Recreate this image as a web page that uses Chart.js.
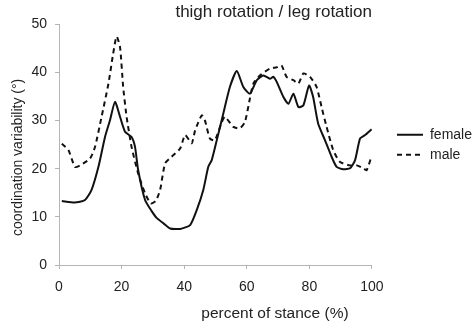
<!DOCTYPE html>
<html>
<head>
<meta charset="utf-8">
<script src="https://cdn.jsdelivr.net/npm/chart.js@4"></script>
<style>
  html, body { margin: 0; padding: 0; background: #fff; }
  #wrap { width: 474px; height: 323px; }
</style>
</head>
<body>
<div id="wrap"><canvas id="coordChart"></canvas></div>
<script>
const chartTitle = 'thigh rotation / leg rotation';
const xTitle = 'percent of stance (%)';
const yTitle = 'coordination variability (°)';
const seriesNames = ['female', 'male'];

const femaleX = [0.9, 5, 8.3, 10.4, 12.6, 14.7, 16.3, 17.9, 19.5, 21.1, 23.2, 24.3, 25.3, 27.5, 29.5, 31.2, 33.5, 35.5, 38.7, 41.9,
  44, 46.1, 47.7, 48.8, 50.4, 52.5, 54.6, 56.8, 58.9, 61, 63.2, 65.3, 67.4, 68.5, 69.6, 71.7, 73.3, 74.9, 76.5, 78.1,
  79.9, 81.2, 82.8, 85, 87.1, 88.7, 90.8, 93, 94.6, 96.2, 97.8, 99.9];
const femaleY = [13.3, 13, 13.5, 15.6, 20.4, 26.6, 30.1, 33.9, 30.8, 27.7, 26.6, 24.5, 19.7, 13.5, 11.3, 9.8, 8.6, 7.6, 7.5, 8.3,
  11.4, 15.6, 20.4, 21.8, 25.9, 31.5, 37, 40.3, 37, 35.6, 38.4, 39.4, 38.7, 39.1, 38, 34.9, 33.5, 35.6, 32.8, 33.2,
  37.3, 34.9, 29.4, 25.9, 22.5, 20.4, 19.9, 20.1, 21.8, 26.3, 27, 28.2];

const maleX = [0.9, 3, 5.1, 6.7, 9.9, 11.5, 13.6, 15.8, 17.3, 18.4, 19.5, 20.5, 21.6, 23.2, 25.3, 27.5, 29.3, 30.9, 32.3, 33.9,
  36, 38.7, 40.3, 42.4, 43.5, 45.6, 46.6, 48.2, 49.8, 52, 53, 55.7, 57.8, 59.4, 61, 62.1, 64.2, 67.4, 69.6, 71.1,
  72.7, 74.9, 76.5, 78.1, 80.2, 82.3, 83.9, 85.5, 87.6, 89.8, 93, 95.1, 97.2, 98.3, 99.8];
const maleY = [25.2, 23.9, 20.4, 20.7, 22.1, 24.5, 30.8, 37.7, 43.9, 47.5, 45.3, 37, 30.8, 24.5, 19, 14.9, 12.8, 13.3, 15.6, 21.1,
  22.5, 24.2, 27, 25.3, 28, 31.1, 30.1, 26.3, 25.9, 29.7, 30.8, 28.7, 28.4, 29.7, 34.6, 37.7, 39.4, 40.8, 41.1, 41.5,
  39.1, 38.4, 37.7, 39.8, 39.1, 37, 32.8, 28.7, 23.9, 21.4, 20.7, 20.7, 20.1, 19.7, 22.5];

const fontFamily = '"Liberation Sans", Arial, sans-serif';
const textColor = '#222';
const axisColor = '#b5b5b5';

// axis captions sit off-centre in the original, so draw them by hand
const axisCaptions = {
  id: 'axisCaptions',
  afterLayout(chart) {
    // leave a gap between plot and legend
    chart.legend.left += 19;
    chart.legend.right += 19;
  },
  afterDraw(chart) {
    const {ctx, chartArea} = chart;
    ctx.save();
    ctx.fillStyle = textColor;
    ctx.textAlign = 'center';
    ctx.textBaseline = 'middle';
    ctx.font = '15.5px ' + fontFamily;
    ctx.fillText(xTitle, chartArea.right - 97, 314);
    ctx.font = '14px ' + fontFamily;
    ctx.translate(18, chartArea.top + 133);
    ctx.rotate(-Math.PI / 2);
    ctx.fillText(yTitle, 0, 0);
    ctx.restore();
  }
};

new Chart(document.getElementById('coordChart'), {
  type: 'line',
  data: {
    datasets: [
      {
        label: seriesNames[0],
        data: femaleX.map((x, i) => ({x: x, y: femaleY[i]})),
        borderColor: '#111',
        borderWidth: 2,
        pointRadius: 0,
        tension: 0.2,
        fill: false
      },
      {
        label: seriesNames[1],
        data: maleX.map((x, i) => ({x: x, y: maleY[i]})),
        borderColor: '#111',
        borderWidth: 2,
        borderDash: [5, 4],
        pointRadius: 0,
        tension: 0.2,
        fill: false
      }
    ]
  },
  options: {
    responsive: true,
    maintainAspectRatio: false,
    animation: false,
    layout: {
      padding: {left: 0, right: 11, top: 0, bottom: 0}
    },
    scales: {
      x: {
        type: 'linear',
        min: 0,
        max: 100,
        ticks: {
          stepSize: 20,
          color: textColor,
          padding: 10,
          font: {size: 14, family: fontFamily}
        },
        grid: {drawOnChartArea: false, tickLength: 4, color: axisColor},
        border: {color: axisColor},
        afterFit(scale) { scale.height = 58; }
      },
      y: {
        min: 0,
        max: 50,
        ticks: {
          stepSize: 10,
          color: textColor,
          padding: 8,
          font: {size: 14, family: fontFamily}
        },
        grid: {drawOnChartArea: false, tickLength: 4, color: axisColor},
        border: {color: axisColor},
        afterFit(scale) { scale.width = 59; }
      }
    },
    plugins: {
      title: {
        display: true,
        text: chartTitle,
        align: 'end',
        fullSize: false,
        color: textColor,
        font: {size: 17, weight: 'normal', family: fontFamily},
        padding: {top: 2, bottom: 2}
      },
      legend: {
        position: 'right',
        fullSize: false,
        labels: {
          usePointStyle: true,
          pointStyle: 'line',
          pointStyleWidth: 26,
          padding: 6,
          color: textColor,
          font: {size: 14, family: fontFamily},
          generateLabels(chart) {
            const items = Chart.defaults.plugins.legend.labels.generateLabels(chart);
            items.forEach((item, i) => {
              item.lineDash = chart.data.datasets[i].borderDash || [];
            });
            return items;
          }
        }
      },
      tooltip: {enabled: false}
    }
  },
  plugins: [axisCaptions]
});
</script>
</body>
</html>
